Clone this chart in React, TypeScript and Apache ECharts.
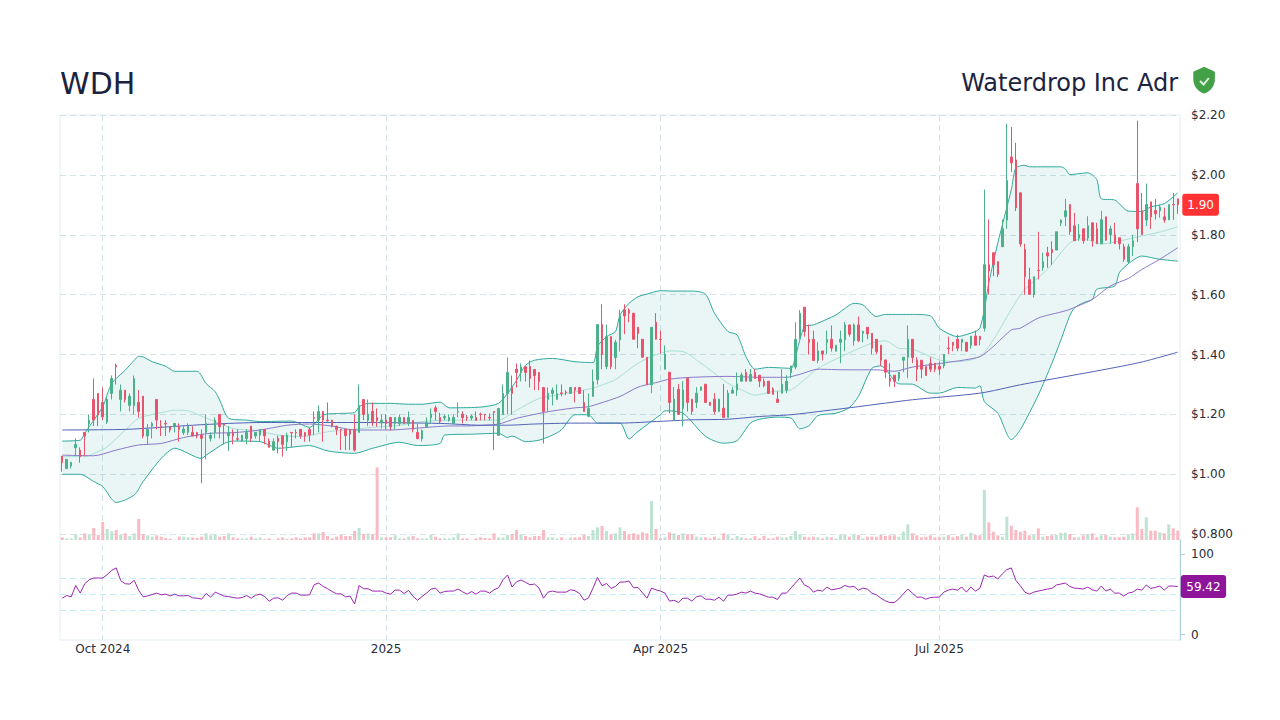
import React, { useEffect, useRef } from "react";
import * as echarts from "echarts";

const ticker = "WDH";
const companyName = "Waterdrop Inc Adr";
const lastPriceLabel = "1.90";
const lastRsiLabel = "59.42";
const FONT = "'DejaVu Sans', sans-serif";

const timeLabels: Record<number, string> = { 9: "Oct 2024", 72: "2025", 133: "Apr 2025", 195: "Jul 2025" };

// [open, close, low, high]
const candles: number[][] = [
[1.061,1.039,1.009,1.061],[1.019,1.05,1.019,1.05],[1.028,1.04,1.019,1.04],[1.089,1.10,1.061,1.12],[1.081,1.059,1.039,1.09],
[1.14,1.128,1.061,1.14],[1.168,1.181,1.14,1.20],[1.25,1.181,1.161,1.32],[1.27,1.198,1.161,1.27],[1.24,1.192,1.181,1.29],
[1.175,1.25,1.168,1.261],[1.27,1.32,1.25,1.33],[1.364,1.359,1.30,1.37],[1.25,1.281,1.21,1.30],[1.281,1.25,1.24,1.281],
[1.23,1.261,1.21,1.27],[1.23,1.32,1.20,1.33],[1.24,1.21,1.19,1.281],[1.261,1.128,1.12,1.261],[1.128,1.15,1.10,1.168],
[1.161,1.17,1.12,1.175],[1.25,1.181,1.15,1.25],[1.161,1.159,1.128,1.181],[1.17,1.168,1.128,1.181],[1.159,1.148,1.14,1.159],
[1.159,1.17,1.14,1.17],[1.159,1.15,1.109,1.17],[1.139,1.151,1.131,1.161],[1.14,1.161,1.131,1.17],[1.14,1.128,1.128,1.161],
[1.14,1.128,1.12,1.14],[1.131,1.12,0.97,1.15],[1.14,1.17,1.05,1.20],[1.12,1.131,1.109,1.14],[1.14,1.181,1.12,1.19],
[1.20,1.159,1.12,1.20],[1.168,1.164,1.10,1.168],[1.128,1.14,1.078,1.161],[1.14,1.128,1.10,1.15],[1.119,1.117,1.111,1.15],
[1.111,1.131,1.109,1.131],[1.119,1.14,1.10,1.15],[1.161,1.12,1.109,1.161],[1.128,1.14,1.119,1.14],[1.131,1.15,1.109,1.15],
[1.15,1.128,1.10,1.15],[1.111,1.09,1.09,1.12],[1.081,1.109,1.078,1.12],[1.12,1.109,1.07,1.129],[1.129,1.10,1.059,1.129],
[1.109,1.131,1.078,1.139],[1.14,1.138,1.09,1.14],[1.14,1.138,1.12,1.15],[1.15,1.128,1.119,1.15],[1.14,1.128,1.109,1.14],
[1.15,1.131,1.109,1.157],[1.19,1.187,1.131,1.21],[1.181,1.21,1.14,1.23],[1.21,1.181,1.109,1.21],[1.181,1.179,1.176,1.24],
[1.181,1.161,1.157,1.181],[1.161,1.15,1.131,1.161],[1.15,1.148,1.081,1.15],[1.15,1.129,1.081,1.15],[1.15,1.134,1.081,1.15],
[1.15,1.081,1.076,1.20],[1.14,1.23,1.14,1.30],[1.25,1.20,1.181,1.25],[1.181,1.201,1.161,1.25],[1.21,1.176,1.161,1.24],
[1.19,1.179,1.159,1.22],[1.172,1.181,1.153,1.20],[1.181,1.17,1.15,1.20],[1.19,1.159,1.146,1.19],[1.17,1.19,1.15,1.19],
[1.17,1.19,1.161,1.20],[1.19,1.17,1.17,1.19],[1.17,1.19,1.161,1.21],[1.18,1.15,1.14,1.18],[1.14,1.119,1.119,1.168],
[1.119,1.146,1.11,1.15],[1.159,1.173,1.157,1.19],[1.189,1.201,1.17,1.22],[1.222,1.21,1.18,1.23],[1.19,1.176,1.17,1.206],
[1.188,1.193,1.18,1.20],[1.18,1.19,1.176,1.20],[1.17,1.19,1.17,1.20],[1.208,1.21,1.19,1.24],[1.201,1.189,1.17,1.21],
[1.19,1.188,1.178,1.198],[1.188,1.194,1.18,1.20],[1.19,1.18,1.18,1.21],[1.201,1.199,1.18,1.206],[1.201,1.199,1.18,1.201],
[1.19,1.188,1.18,1.203],[1.21,1.207,1.081,1.21],[1.13,1.22,1.13,1.22],[1.20,1.27,1.20,1.30],[1.27,1.34,1.20,1.39],
[1.29,1.27,1.20,1.33],[1.351,1.34,1.29,1.37],[1.34,1.359,1.31,1.37],[1.359,1.34,1.31,1.359],[1.36,1.32,1.29,1.38],
[1.35,1.33,1.281,1.35],[1.34,1.31,1.281,1.34],[1.29,1.21,1.103,1.29],[1.25,1.27,1.21,1.29],[1.27,1.281,1.23,1.29],
[1.25,1.27,1.25,1.30],[1.272,1.27,1.261,1.30],[1.275,1.273,1.264,1.281],[1.27,1.29,1.27,1.29],[1.29,1.281,1.24,1.29],
[1.29,1.27,1.27,1.29],[1.24,1.21,1.21,1.281],[1.194,1.22,1.19,1.27],[1.26,1.31,1.26,1.35],[1.316,1.50,1.30,1.50],
[1.50,1.40,1.351,1.568],[1.36,1.46,1.351,1.50],[1.46,1.36,1.351,1.46],[1.39,1.441,1.351,1.449],[1.449,1.529,1.41,1.549],
[1.549,1.529,1.468,1.568],[1.549,1.538,1.508,1.554],[1.538,1.451,1.451,1.538],[1.491,1.47,1.421,1.491],[1.451,1.391,1.391,1.451],
[1.391,1.299,1.299,1.391],[1.299,1.491,1.271,1.491],[1.508,1.451,1.451,1.538],[1.451,1.45,1.404,1.48],[1.351,1.402,1.351,1.43],
[1.341,1.24,1.204,1.341],[1.18,1.251,1.18,1.291],[1.284,1.20,1.20,1.302],[1.22,1.282,1.16,1.311],[1.321,1.24,1.21,1.321],
[1.251,1.21,1.20,1.251],[1.24,1.271,1.221,1.291],[1.281,1.292,1.279,1.292],[1.301,1.24,1.24,1.301],[1.241,1.23,1.23,1.241],
[1.251,1.21,1.20,1.271],[1.21,1.251,1.21,1.251],[1.221,1.19,1.19,1.302],[1.19,1.271,1.19,1.282],[1.271,1.281,1.271,1.291],
[1.281,1.302,1.262,1.34],[1.311,1.332,1.311,1.34],[1.34,1.311,1.311,1.351],[1.311,1.334,1.311,1.351],[1.34,1.32,1.32,1.351],
[1.331,1.311,1.291,1.331],[1.311,1.296,1.291,1.32],[1.311,1.27,1.27,1.311],[1.286,1.267,1.267,1.291],[1.251,1.24,1.24,1.277],
[1.271,1.301,1.271,1.351],[1.281,1.311,1.271,1.331],[1.34,1.362,1.321,1.362],[1.358,1.451,1.351,1.508],[1.46,1.538,1.451,1.549],
[1.558,1.477,1.46,1.558],[1.451,1.441,1.40,1.50],[1.451,1.38,1.38,1.48],[1.38,1.412,1.371,1.441],[1.412,1.402,1.38,1.412],
[1.441,1.451,1.401,1.48],[1.451,1.421,1.41,1.497],[1.411,1.431,1.411,1.431],[1.441,1.451,1.371,1.48],[1.449,1.499,1.411,1.508],
[1.499,1.468,1.46,1.499],[1.446,1.499,1.43,1.504],[1.499,1.446,1.441,1.527],[1.471,1.477,1.441,1.48],[1.491,1.469,1.451,1.491],
[1.471,1.421,1.401,1.471],[1.451,1.41,1.401,1.451],[1.431,1.381,1.362,1.431],[1.382,1.341,1.321,1.382],[1.321,1.311,1.293,1.371],
[1.331,1.311,1.291,1.331],[1.321,1.341,1.311,1.341],[1.381,1.391,1.341,1.391],[1.391,1.451,1.321,1.497],[1.451,1.39,1.371,1.451],
[1.382,1.351,1.311,1.391],[1.381,1.351,1.321,1.381],[1.36,1.33,1.33,1.36],[1.371,1.351,1.341,1.391],[1.371,1.351,1.341,1.371],
[1.361,1.351,1.332,1.377],[1.362,1.401,1.354,1.401],[1.422,1.42,1.401,1.46],[1.441,1.43,1.411,1.441],[1.451,1.421,1.411,1.466],
[1.441,1.451,1.411,1.451],[1.441,1.411,1.411,1.441],[1.431,1.461,1.42,1.461],[1.462,1.431,1.431,1.48],[1.461,1.45,1.431,1.461],
[1.488,1.70,1.477,1.951],[1.70,1.679,1.60,1.851],[1.74,1.70,1.662,1.74],[1.71,1.668,1.659,1.71],[1.76,1.82,1.76,1.851],
[1.849,1.981,1.82,2.171],[2.06,2.04,2.01,2.16],[2.05,1.89,1.879,2.107],[1.94,1.769,1.76,1.94],[1.751,1.66,1.60,1.77],
[1.65,1.601,1.60,1.69],[1.60,1.66,1.59,1.66],[1.681,1.68,1.651,1.81],[1.69,1.71,1.68,1.74],[1.74,1.729,1.69,1.76],
[1.751,1.74,1.70,1.778],[1.749,1.81,1.749,1.81],[1.839,1.849,1.829,1.851],[1.86,1.88,1.829,1.92],[1.901,1.81,1.80,1.901],
[1.83,1.78,1.78,1.873],[1.789,1.80,1.78,1.836],[1.82,1.78,1.77,1.82],[1.789,1.83,1.78,1.862],[1.84,1.78,1.76,1.84],
[1.82,1.77,1.77,1.84],[1.77,1.85,1.77,1.88],[1.86,1.782,1.78,1.86],[1.80,1.82,1.77,1.83],[1.80,1.77,1.77,1.84],
[1.79,1.77,1.751,1.79],[1.76,1.718,1.71,1.77],[1.71,1.76,1.703,1.77],[1.76,1.78,1.729,1.80],[1.971,1.82,1.776,2.181],
[1.88,1.801,1.80,1.94],[1.849,1.901,1.829,1.971],[1.91,1.86,1.82,1.91],[1.881,1.87,1.851,1.92],[1.88,1.892,1.857,1.901],
[1.86,1.849,1.84,1.89],[1.85,1.901,1.85,1.901],[1.901,1.90,1.85,1.94],[1.92,1.90,1.87,1.92],
];

const volumes: number[] = [
8,5,5,17,8,20,17,36,15,54,33,26,30,15,20,12,20,63,17,14,
10,14,10,6,4,1,10,10,8,8,6,10,20,14,17,10,12,20,8,5,
5,5,10,5,8,3,5,1,5,8,4,5,8,5,8,8,20,20,24,12,
5,10,15,12,12,27,36,18,20,17,218,8,8,8,14,5,5,10,12,5,
5,5,15,10,5,5,5,8,20,5,5,1,5,8,6,5,20,8,8,15,
17,30,17,12,8,12,12,30,8,8,5,8,1,8,8,8,15,12,30,38,
42,27,17,20,38,27,17,20,17,23,20,117,33,5,8,23,20,15,20,17,
17,10,8,8,5,10,5,20,17,5,12,8,5,5,12,5,12,5,5,10,
8,8,12,27,17,10,8,10,8,5,10,8,5,15,15,10,15,15,5,10,
10,10,15,12,14,14,10,25,47,20,14,8,10,14,8,8,10,15,8,12,
15,10,22,15,14,150,53,25,14,10,70,43,30,25,28,14,15,35,10,12,
14,15,22,22,18,8,8,14,18,20,8,14,15,10,8,8,10,17,20,98,
33,68,28,28,23,20,47,35,28,
];

const rsiValues: number[] = [
45,48.3,46.7,60.8,51.3,62.9,67.9,70,70,70,
74.2,79.6,82.5,66.7,62.9,62.5,67.1,54.6,46.7,47.9,
49.6,51.3,49.2,50,47.9,50,47.9,47.9,48.3,45.4,
45,43.8,50.8,46.3,52.5,50,47.5,47.1,45.8,45,
45.8,48.3,45,48.8,50,47.1,41.3,45,45.4,42.5,
48.3,51.3,51.3,48.8,48.8,49.2,61.7,63.8,59.6,56.7,
53.3,50.4,50.4,46.7,47.5,37.9,60.8,56.7,56.7,53.8,
53.8,53.8,51.3,50,55,55,50.8,54.6,47.1,42.5,
47.1,51.3,56.3,57.5,51.3,53.3,53.8,53.8,56.3,
52.9,50,53.3,50,53.8,53.8,51.3,55.4,57.9,67.9,
73.8,58.8,65.4,67.5,64.6,61.7,62.5,57.5,45,52.5,
53.8,52.5,52.5,52.5,55.4,54.2,50.8,42.5,45.4,57.5,
70.8,60.4,63.3,57.1,59.6,65,65,66.3,57.9,58.3,
51.7,45,57.5,55.4,53.8,51.3,41.3,42.5,39.6,45,
45,41.3,46.7,47.9,43.8,43.8,42.5,46.3,41.3,48.8,
48.8,50,52.5,51.3,53.8,51.3,50.4,48.3,46.3,46.3,
43.3,51.3,51.3,57.5,63.8,70,61.3,58.8,52.5,55,
53.8,58.8,
55.4,56.3,57.5,60.8,58.8,59.6,55,57.5,56.3,51.3,
49.2,45,41.7,39.6,39.6,44.2,50.4,56.3,51.3,46.3,
46.3,43.8,45.8,46.3,46.3,52.5,55,56.3,55,58.8,
52.5,58.8,53.8,57.1,73.8,71.3,72.5,68.8,75,80.4,
82.5,67.1,60.4,52.5,50,52.5,53.8,55,56.3,57.1,
61.3,62.5,63.8,59.6,57.5,57.1,56.3,58.8,55.4,53.8,
60,53.8,56.3,51.3,51.3,47.5,51.3,52.5,56.3,55,
61.3,57.1,58.3,60,55,60,60,59.42,
];

// Lines as [candle index, value]
const bbUpper: number[][] = [[0,1.111],[4,1.114],[5,1.137],[7,1.181],[9,1.226],[11,1.303],[14,1.348],[16,1.381],[17,1.394],[18,1.392],[20,1.376],[23,1.361],[25,1.344],[28,1.344],[30,1.344],[32,1.303],[34,1.276],[35,1.248],[37,1.187],[41,1.181],[44,1.176],[51,1.178],[55,1.157],[58,1.198],[61,1.203],[65,1.206],[66,1.226],[68,1.237],[73,1.237],[77,1.234],[80,1.234],[84,1.241],[86,1.222],[91,1.223],[94,1.226],[97,1.237],[99,1.27],[101,1.314],[103,1.364],[105,1.381],[109,1.387],[114,1.376],[118,1.373],[119,1.427],[121,1.46],[123,1.477],[124,1.532],[126,1.571],[128,1.593],[130,1.602],[133,1.613],[136,1.612],[140,1.612],[143,1.602],[145,1.538],[148,1.477],[150,1.466],[152,1.393],[154,1.351],[157,1.357],[162,1.354],[163,1.393],[165,1.493],[167,1.499],[170,1.518],[172,1.532],[174,1.554],[176,1.571],[178,1.566],[181,1.527],[183,1.534],[189,1.534],[193,1.529],[195,1.488],[199,1.46],[203,1.477],[204,1.488],[205,1.55],[206,1.64],[208,1.773],[211,1.951],[212,2.023],[214,2.032],[215,2.027],[222,2.027],[223,2.02],[224,2.001],[228,2.007],[230,1.984],[231,1.92],[234,1.916],[237,1.879],[240,1.878],[242,1.893],[245,1.904],[248,1.94]];
const bbLower: number[][] = [[0,1.0],[4,1.0],[7,0.976],[9,0.959],[12,0.906],[16,0.931],[18,0.976],[22,1.053],[25,1.087],[31,1.053],[32,1.064],[36,1.103],[38,1.111],[44,1.109],[48,1.087],[55,1.096],[59,1.078],[65,1.07],[69,1.087],[75,1.107],[79,1.096],[84,1.103],[85,1.131],[91,1.134],[97,1.137],[99,1.123],[100,1.128],[103,1.109],[106,1.114],[109,1.131],[111,1.149],[114,1.199],[117,1.199],[119,1.171],[124,1.171],[126,1.118],[128,1.143],[133,1.199],[134,1.212],[138,1.204],[143,1.127],[147,1.104],[150,1.112],[153,1.171],[155,1.184],[159,1.191],[162,1.188],[164,1.152],[166,1.162],[168,1.196],[172,1.204],[175,1.223],[177,1.26],[180,1.354],[182,1.362],[186,1.302],[189,1.301],[193,1.271],[195,1.271],[199,1.29],[203,1.288],[204,1.296],[205,1.243],[208,1.204],[211,1.116],[213,1.149],[217,1.265],[220,1.37],[222,1.448],[224,1.53],[225,1.555],[227,1.573],[229,1.584],[230,1.618],[234,1.629],[235,1.673],[237,1.703],[240,1.729],[244,1.718],[248,1.712]];
const bbMiddle: number[][] = [[0,1.059],[5,1.059],[8,1.076],[10,1.092],[14,1.148],[17,1.187],[22,1.206],[25,1.214],[28,1.212],[31,1.194],[34,1.176],[38,1.153],[43,1.146],[48,1.131],[53,1.126],[59,1.142],[63,1.148],[69,1.157],[75,1.164],[80,1.176],[86,1.181],[91,1.181],[97,1.181],[101,1.214],[106,1.253],[112,1.27],[118,1.288],[121,1.304],[123,1.316],[128,1.371],[132,1.399],[135,1.412],[138,1.41],[142,1.371],[144,1.349],[148,1.304],[151,1.282],[154,1.264],[158,1.277],[162,1.282],[165,1.316],[168,1.354],[174,1.399],[180,1.438],[183,1.446],[186,1.421],[189,1.418],[195,1.382],[199,1.376],[204,1.393],[207,1.449],[211,1.551],[214,1.618],[219,1.684],[224,1.773],[227,1.787],[231,1.769],[235,1.779],[240,1.796],[244,1.809],[248,1.827]];
const sma50: number[][] = [[0,1.064],[7,1.062],[12,1.081],[17,1.098],[22,1.103],[27,1.123],[33,1.137],[38,1.139],[44,1.148],[50,1.164],[55,1.168],[60,1.161],[65,1.148],[73,1.148],[78,1.153],[85,1.161],[91,1.162],[97,1.168],[101,1.187],[108,1.209],[114,1.222],[117,1.226],[124,1.26],[128,1.291],[133,1.31],[135,1.318],[140,1.324],[148,1.327],[155,1.324],[161,1.324],[164,1.334],[168,1.351],[174,1.349],[181,1.349],[185,1.344],[189,1.358],[197,1.374],[204,1.393],[207,1.427],[211,1.482],[213,1.488],[217,1.522],[222,1.542],[224,1.551],[229,1.584],[233,1.629],[237,1.654],[240,1.684],[244,1.718],[248,1.757]];
const sma200: number[][] = [[0,1.148],[14,1.15],[22,1.157],[29,1.164],[37,1.17],[44,1.173],[66,1.173],[84,1.17],[93,1.164],[99,1.164],[105,1.168],[114,1.171],[124,1.171],[133,1.177],[140,1.182],[148,1.184],[155,1.193],[162,1.199],[170,1.213],[177,1.226],[189,1.249],[204,1.271],[213,1.299],[217,1.31],[231,1.348],[240,1.375],[248,1.408]];

const COLORS = {
  up: "#4cb08a", down: "#e6556b", volUp: "#bfe3d3", volDown: "#f9bac4",
  band: "#2fa99c", bandFill: "rgba(38,166,154,0.1)", mid: "#aadfd5",
  sma50: "#8b78c9", sma200: "#5261b8", rsi: "#9c27b0",
  grid: "#d3e3e8", frame: "#e3edf1", rsiBand: "#c4eefc", text: "#2a2e39", title: "#1b2340",
};

const categories = candles.map((_, i) => String(i));

function lineSeries(name: string, data: number[][], color: string) {
  return {
    name, type: "line", xAxisIndex: 0, yAxisIndex: 0, data, symbol: "none", silent: true, smooth: 0.25,
    lineStyle: { color, width: 1 }, z: 3,
  };
}

function hiddenX(gridIndex: number) {
  return { type: "category", gridIndex, data: categories, show: false, boundaryGap: true };
}

export default function App() {
  const ref = useRef<HTMLDivElement>(null);
  useEffect(() => {
    const chart = echarts.init(ref.current!, null, { renderer: "svg" });
    echarts.graphic.registerShape(
      "shieldLogo",
      echarts.graphic.extendPath(
        "M12 1L3 5v6c0 5.55 3.84 10.74 9 12 5.16-1.26 9-6.45 9-12V5z",
        {}
      )
    );
    const option: any = {
      animation: false,
      backgroundColor: "#fff",
      title: [
        { text: ticker, left: 60, top: 68, padding: 0, textStyle: { fontFamily: FONT, fontSize: 30, fontWeight: "normal", color: COLORS.title } },
        { text: companyName, right: 102, top: 71, padding: 0, textStyle: { fontFamily: FONT, fontSize: 24, fontWeight: "normal", color: COLORS.title } },
      ],
      graphic: [
        { type: "shieldLogo", x: 1189.7, y: 65.6, scaleX: 1.2, scaleY: 1.21, style: { fill: "#43a047" } },
        { type: "polyline", shape: { points: [[1200, 81], [1203.6, 84.5], [1208.8, 78]] }, style: { stroke: "#dff0df", lineWidth: 2, fill: "none" } },
      ],
      grid: [
        { left: 60, width: 1120, top: 115, height: 419.2 },
        { left: 60, width: 1120, top: 440, height: 100 },
        { left: 60, width: 1120, top: 540, height: 100 },
        { left: 60, width: 1120, top: 115, height: 525, show: true, borderColor: COLORS.frame, borderWidth: 1, backgroundColor: "transparent" },
      ],
      xAxis: [
        hiddenX(0),
        hiddenX(1),
        hiddenX(2),
        {
          type: "category", gridIndex: 3, data: categories, boundaryGap: true,
          axisLine: { show: false }, axisTick: { show: false },
          axisLabel: {
            interval: (i: number) => timeLabels[i] !== undefined,
            formatter: (_: string, i: number) => timeLabels[i] ?? "",
            margin: 3, fontFamily: FONT, fontSize: 12, color: COLORS.text, hideOverlap: false,
          },
          splitLine: {
            show: true, alignWithLabel: true,
            interval: (i: number) => timeLabels[i] !== undefined,
            lineStyle: { color: COLORS.grid, type: [6, 4], width: 1 },
          },
        },
      ],
      yAxis: [
        {
          type: "value", gridIndex: 0, position: "right", min: 0.8, max: 2.2, interval: 0.2,
          axisLine: { show: false }, axisTick: { show: false },
          axisLabel: {
            margin: 11, fontFamily: FONT, fontSize: 12, color: COLORS.text,
            formatter: (v: number) => "$" + v.toFixed(v < 1 ? 3 : 2),
          },
          splitLine: { show: true, lineStyle: { color: COLORS.grid, type: [6, 4], width: 1 } },
        },
        { type: "value", gridIndex: 1, min: 0, max: 300, show: false, splitLine: { show: false } },
        {
          type: "value", gridIndex: 2, position: "right", min: -6.8, max: 117.1,
          axisLine: { show: true, lineStyle: { color: "#acd3da", width: 1 } },
          axisTick: { show: true, length: 5, customValues: [0, 50, 100], lineStyle: { color: "#acd3da" } },
          axisLabel: { customValues: [0, 50, 100], margin: 11, fontFamily: FONT, fontSize: 12, color: COLORS.text },
          splitLine: { show: false },
        },
        { type: "value", gridIndex: 3, show: false, splitLine: { show: false } },
      ],
      series: [
        {
          name: "BB fill", type: "custom", xAxisIndex: 0, yAxisIndex: 0, silent: true, z: 1,
          data: [[0, 1.5]], encode: { x: 0, y: 1 }, clip: false,
          renderItem: (_: any, api: any) => ({
            type: "polygon",
            shape: { points: [...bbUpper, ...[...bbLower].reverse()].map((p) => api.coord(p)) },
            style: { fill: COLORS.bandFill },
          }),
        },
        lineSeries("BB upper", bbUpper, COLORS.band),
        lineSeries("BB lower", bbLower, COLORS.band),
        lineSeries("BB middle", bbMiddle, COLORS.mid),
        lineSeries("SMA 50", sma50, COLORS.sma50),
        lineSeries("SMA 200", sma200, COLORS.sma200),
        {
          name: "Price", type: "candlestick", xAxisIndex: 0, yAxisIndex: 0, data: candles, barWidth: 2, z: 4,
          itemStyle: { color: COLORS.up, color0: COLORS.down, borderColor: COLORS.up, borderColor0: COLORS.down, borderWidth: 1 },
          markPoint: {
            silent: true, symbol: "rect", symbolSize: 1, itemStyle: { color: "transparent" },
            data: [{ coord: [candles.length - 1, candles[candles.length - 1][1]] }],
            label: {
              show: true, position: "right", distance: 4, formatter: lastPriceLabel, color: "#fff",
              backgroundColor: "#ff3333", borderRadius: 3, padding: [5, 5], fontFamily: FONT, fontSize: 12,
            },
          },
        },
        {
          name: "Volume", type: "bar", xAxisIndex: 1, yAxisIndex: 1, barWidth: 3, z: 2, silent: true,
          data: volumes.map((v, i) => ({
            value: v,
            itemStyle: { color: candles[i] && candles[i][1] >= candles[i][0] ? COLORS.volUp : COLORS.volDown },
          })),
        },
        {
          name: "RSI", type: "line", xAxisIndex: 2, yAxisIndex: 2, data: rsiValues, symbol: "none", z: 5, silent: true,
          lineStyle: { color: COLORS.rsi, width: 1 },
          endLabel: {
            show: true, formatter: lastRsiLabel, distance: 3, color: "#fff", backgroundColor: "#8e1599",
            borderRadius: 3, padding: [5.5, 5.5], fontFamily: FONT, fontSize: 12,
          },
          markLine: {
            silent: true, symbol: "none", label: { show: false }, animation: false,
            lineStyle: { color: COLORS.rsiBand, type: [6, 4], width: 1 },
            data: [{ yAxis: 30 }, { yAxis: 50 }, { yAxis: 70 }],
          },
        },
      ],
    };
    chart.setOption(option);
    return () => chart.dispose();
  }, []);
  return <div ref={ref} style={{ position: "absolute", left: 0, top: 0, width: 1280, height: 720 }} />;
}
